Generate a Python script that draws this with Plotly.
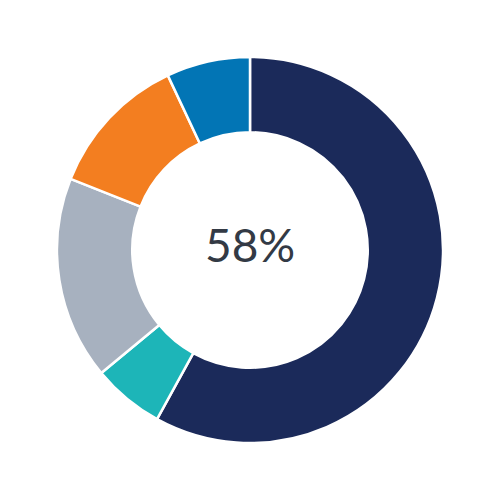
import plotly.graph_objects as go

labels = ["Segment A", "Segment B", "Segment C", "Segment D", "Segment E"]
values = [58, 6, 17, 12, 7]
colors = ["#1b2a5a", "#1db5b8", "#a7b1bf", "#f37e20", "#0275b5"]
center_text = "58%"

fig = go.Figure(
    go.Pie(
        labels=labels,
        values=values,
        hole=0.61,
        sort=False,
        direction="clockwise",
        rotation=0,
        marker={"colors": colors, "line": {"color": "white", "width": 2.5}},
        textinfo="none",
        hoverinfo="label+percent",
    )
)
# the page body adds an 8px margin, so the plot box is shifted back by that much
fig.update_layout(
    width=500,
    height=500,
    showlegend=False,
    paper_bgcolor="white",
    plot_bgcolor="white",
    margin={"l": 49, "r": 65, "t": 49, "b": 65},
    annotations=[
        {
            "text": center_text,
            "x": 0.5,
            "y": 0.5,
            "xref": "paper",
            "yref": "paper",
            "yshift": 6,
            "showarrow": False,
            "font": {"family": "Lato", "size": 46, "color": "#333a45"},
        }
    ],
)
fig.write_html("out.html")
